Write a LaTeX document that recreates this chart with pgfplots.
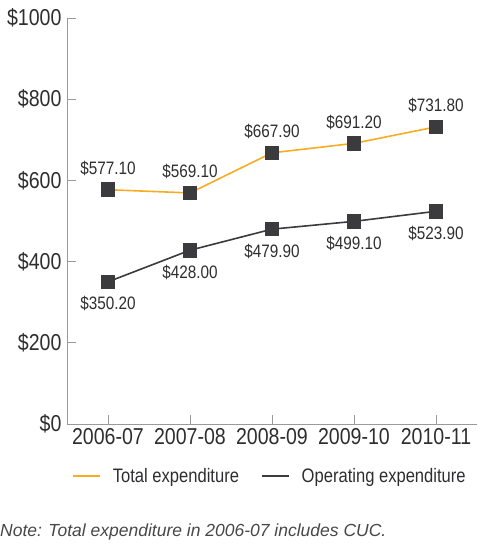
\documentclass[border=0pt]{standalone}
\usepackage{fontspec}
\setmainfont{Liberation Sans}
\newfontfamily\cond[FakeStretch=0.85]{Liberation Sans}
\usepackage{pgfplots}
\pgfplotsset{compat=1.18}

\definecolor{totorange}{HTML}{F7AC21}
\definecolor{opgray}{HTML}{3B3B3D}
\definecolor{axgray}{HTML}{9A9A9A}
\definecolor{txt}{HTML}{2E2E30}

\begin{document}
\begin{tikzpicture}
\begin{axis}[
    scale only axis,
    width=410pt, height=406pt,
    xmin=-0.5, xmax=4.5,
    ymin=0, ymax=1000,
    axis lines=left,
    axis line style={-, axgray, line width=0.8pt},
    tick style={axgray, line width=0.8pt},
    tick align=inside,
    major tick length=9pt,
    xtick={0,...,4},
    xticklabels={2006-07,2007-08,2008-09,2009-10,2010-11},
    ytick={0,200,...,1000},
    yticklabels={\$0,\$200,\$400,\$600,\$800,\$1000},
    ticklabel style={font=\cond\fontsize{23}{23}\selectfont, text=txt},
    xticklabel style={yshift=-1pt},
    yticklabel style={xshift=-2pt},
    point meta=explicit symbolic,
    nodes near coords,
    nodes near coords style={font=\cond\fontsize{18}{18}\selectfont, text=txt, anchor=center},
    legend style={at={(axis description cs:0.005,-0.128)}, anchor=west, draw=none,
        fill=none, font=\cond\fontsize{19.5}{20}\selectfont, text=txt,
        /tikz/every even column/.append style={column sep=20pt}},
    legend columns=2,
    legend image code/.code={\draw[#1] (0pt,0pt) -- (27pt,0pt); \path (37pt,0pt);},
    clip=false,
]
\addplot[color=totorange, line width=1.6pt, mark=square*, mark size=6.5pt,
    mark options={fill=opgray, draw=opgray},
    every node near coord/.append style={yshift=21pt}, forget plot]
    coordinates {
    (0,577.1) [\$577.10]
    (1,569.1) [\$569.10]
    (2,667.9) [\$667.90]
    (3,691.2) [\$691.20]
    (4,731.8) [\$731.80]
    };
\addplot[color=opgray, line width=1.6pt, mark=square*, mark size=6.5pt,
    mark options={fill=opgray, draw=opgray},
    every node near coord/.append style={yshift=-22pt}, forget plot]
    coordinates {
    (0,350.2) [\$350.20]
    (1,428.0) [\$428.00]
    (2,479.9) [\$479.90]
    (3,499.1) [\$499.10]
    (4,523.9) [\$523.90]
    };
\addlegendimage{color=totorange, line width=1.6pt}
\addlegendentry{Total expenditure}
\addlegendimage{color=opgray, line width=1.6pt}
\addlegendentry{Operating expenditure}
\end{axis}
\node[anchor=west, inner sep=0pt, font=\itshape\fontsize{17.5}{17.5}\selectfont, text=black!72]
    at ([shift={(-67pt,-108pt)}]current axis.south west)
    {Note: Total expenditure in 2006-07 includes CUC.};
\pgfresetboundingbox
\path ([shift={(-67pt,-132pt)}]current axis.south west) rectangle
      ([shift={(12pt,18pt)}]current axis.north east);
\end{tikzpicture}
\end{document}
